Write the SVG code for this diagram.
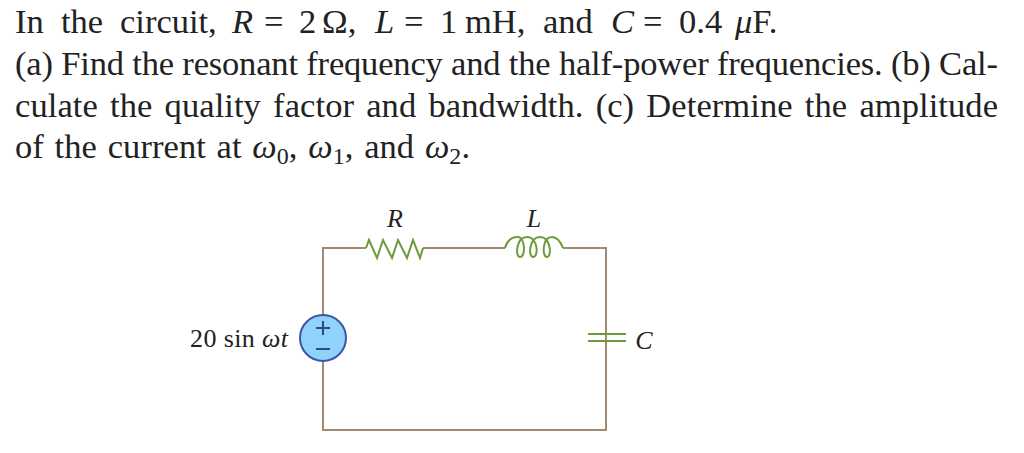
<svg xmlns="http://www.w3.org/2000/svg" width="1024" height="453" viewBox="0 0 1024 453">
<style>
text{font-family:"Liberation Serif","Times New Roman",serif;fill:#222}
.p{font-size:34.5px}
.l{font-size:26px}
.i{font-style:italic}
.w{fill:none;stroke:#a08a70;stroke-width:2}
.g{fill:none;stroke:#6f9a3c;stroke-width:2}
</style>
<rect width="1024" height="453" fill="#fff"/>
<g id="problem-text">
<text class="p" y="33"><tspan x="15">In</tspan> <tspan x="61">the</tspan> <tspan x="120">circuit,</tspan> <tspan x="232" class="i">R</tspan> <tspan x="264">=</tspan> <tspan x="299">2</tspan> <tspan x="322">Ω,</tspan> <tspan x="375" class="i">L</tspan> <tspan x="404">=</tspan> <tspan x="440">1</tspan> <tspan x="465">mH,</tspan> <tspan x="543">and</tspan> <tspan x="611" class="i">C</tspan> <tspan x="643">=</tspan> <tspan x="679">0.4</tspan> <tspan x="735" class="i">μ</tspan><tspan>F.</tspan></text>
<text class="p" x="15" y="75" textLength="983" lengthAdjust="spacing">(a) Find the resonant frequency and the half-power frequencies. (b) Cal-</text>
<text class="p" x="15" y="117" textLength="983" lengthAdjust="spacing" style="word-spacing:3.5px">culate the quality factor and bandwidth. (c) Determine the amplitude</text>
<text class="p" x="15" y="158" textLength="455" lengthAdjust="spacing" style="word-spacing:2px">of the current at <tspan class="i">ω</tspan><tspan font-size="24" dy="6">0</tspan><tspan dy="-6">, </tspan><tspan class="i">ω</tspan><tspan font-size="24" dy="6">1</tspan><tspan dy="-6">, and </tspan><tspan class="i">ω</tspan><tspan font-size="24" dy="6">2</tspan><tspan dy="-6">.</tspan></text>
</g>
<g id="connectors">
<path class="w" d="M323 315V248H366M423 248H505M563 248H606V430H323V361"/>
</g>
<g id="R">
<text class="l i" x="395" y="227" text-anchor="middle">R</text>
<path class="g" d="M366 248L369 240L377 258L383 240L392 258L398 240L407 258L413 240L420 258L423 248"/>
</g>
<g id="L">
<text class="l i" x="534" y="227" text-anchor="middle">L</text>
<path class="g" d="M505 248C507 241 512 237 518 237C525 237 526 257 520 257C515 257 516 237 527 237C538 237 539 257 533 257C528 257 529 237 540 237C551 237 552 257 547 257C542 257 542 237 552 237C558 237 561 243 563 248"/>
</g>
<g id="C">
<path class="g" d="M588 334H626M588 341H626"/>
<text class="l i" x="644" y="349" text-anchor="middle">C</text>
</g>
<g id="source">
<circle cx="323" cy="338" r="23" fill="#8fd2fa" stroke="#3d55a8" stroke-width="2"/>
<path d="M316 328H330M323 321V335M316 349H330" fill="none" stroke="#2f4a80" stroke-width="2"/>
<text class="l" x="190" y="347" textLength="98" lengthAdjust="spacing">20 sin <tspan class="i">ωt</tspan></text>
</g>
</svg>
